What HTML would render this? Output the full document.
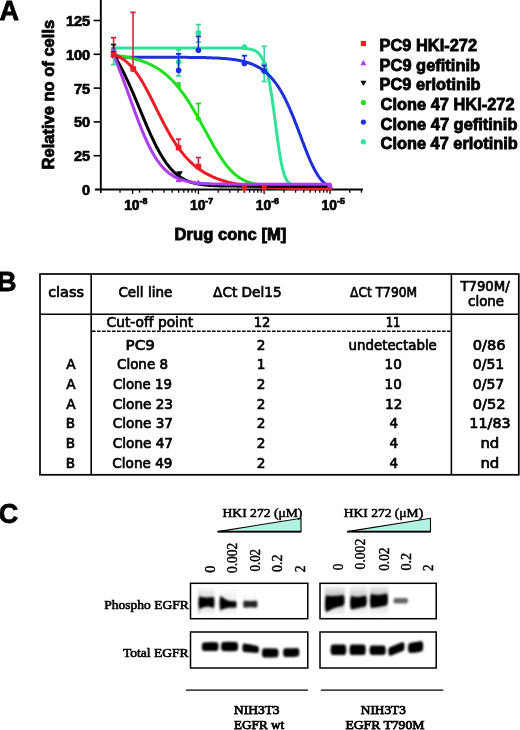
<!DOCTYPE html>
<html><head><meta charset="utf-8"><style>
html,body{margin:0;padding:0;background:#fff;}
svg{display:block;}

.pl{font-family:"Liberation Sans",Arial,sans-serif;font-weight:bold;font-size:27px;stroke:#000;stroke-width:0.8px;}
.ax{font-family:"Liberation Sans",Arial,sans-serif;font-weight:bold;font-size:16.2px;stroke:#000;stroke-width:0.8px;}
.lg{font-family:"Liberation Sans",Arial,sans-serif;font-weight:bold;font-size:16.0px;stroke:#000;stroke-width:0.8px;}
.tk{font-family:"Liberation Sans",Arial,sans-serif;font-weight:bold;font-size:14.5px;stroke:#000;stroke-width:0.7px;}
.tk2{font-family:"Liberation Sans",Arial,sans-serif;font-weight:bold;font-size:13.8px;stroke:#000;stroke-width:0.7px;}
.sup{font-size:8.8px;}
.tb{font-family:"DejaVu Sans",Verdana,sans-serif;font-size:13.6px;stroke:#000;stroke-width:0.7px;}
.sr{font-family:"Liberation Serif","Times New Roman",serif;font-size:12.9px;stroke:#000;stroke-width:0.6px;}
.sr3{font-family:"Liberation Serif","Times New Roman",serif;font-size:12.9px;stroke:#000;stroke-width:0.55px;}
.sr2{font-family:"Liberation Serif","Times New Roman",serif;font-size:13.1px;stroke:#000;stroke-width:0.75px;}
.ln{font-family:"Liberation Serif","Times New Roman",serif;font-size:14.4px;stroke:#000;stroke-width:0.45px;}

</style></head><body>
<svg width="520" height="730" viewBox="0 0 520 730">
<defs>
<linearGradient id="sm2" x1="0" y1="0" x2="0" y2="1"><stop offset="0" stop-color="#000" stop-opacity="0.35"/><stop offset="1" stop-color="#000" stop-opacity="0"/></linearGradient>
<linearGradient id="sm" x1="0" y1="0" x2="0" y2="1"><stop offset="0" stop-color="#000" stop-opacity="0"/><stop offset="1" stop-color="#000" stop-opacity="0.5"/></linearGradient>
<filter id="bl" x="-20%" y="-50%" width="140%" height="200%"><feGaussianBlur stdDeviation="1.1"/></filter>
<filter id="bl2" x="-20%" y="-50%" width="140%" height="200%"><feGaussianBlur stdDeviation="1.0"/></filter>
</defs>
<text x="-0.6" y="19.6" class="pl">A</text>
<line x1="100.8" y1="0" x2="100.8" y2="190.5" stroke="#000" stroke-width="1.9"/>
<text x="90.2" y="194.9" text-anchor="end" class="tk">0</text>
<line x1="93.6" y1="155.7" x2="100.8" y2="155.7" stroke="#000" stroke-width="1.6"/>
<text x="90.2" y="161.1" text-anchor="end" class="tk">25</text>
<line x1="93.6" y1="121.9" x2="100.8" y2="121.9" stroke="#000" stroke-width="1.6"/>
<text x="90.2" y="127.3" text-anchor="end" class="tk">50</text>
<line x1="93.6" y1="88.1" x2="100.8" y2="88.1" stroke="#000" stroke-width="1.6"/>
<text x="90.2" y="93.5" text-anchor="end" class="tk">75</text>
<line x1="93.6" y1="54.3" x2="100.8" y2="54.3" stroke="#000" stroke-width="1.6"/>
<text x="90.2" y="59.7" text-anchor="end" class="tk">100</text>
<line x1="93.6" y1="20.5" x2="100.8" y2="20.5" stroke="#000" stroke-width="1.6"/>
<text x="90.2" y="25.9" text-anchor="end" class="tk">125</text>
<line x1="94.9" y1="189.5" x2="362.9" y2="189.5" stroke="#000" stroke-width="1.9"/>
<line x1="132.6" y1="189.5" x2="132.6" y2="194.0" stroke="#000" stroke-width="1.3"/>
<line x1="152.4" y1="189.5" x2="152.4" y2="192.7" stroke="#000" stroke-width="1.3"/>
<line x1="164.0" y1="189.5" x2="164.0" y2="192.7" stroke="#000" stroke-width="1.3"/>
<line x1="172.2" y1="189.5" x2="172.2" y2="192.7" stroke="#000" stroke-width="1.3"/>
<line x1="178.6" y1="189.5" x2="178.6" y2="192.7" stroke="#000" stroke-width="1.3"/>
<line x1="183.8" y1="189.5" x2="183.8" y2="192.7" stroke="#000" stroke-width="1.3"/>
<line x1="188.2" y1="189.5" x2="188.2" y2="192.7" stroke="#000" stroke-width="1.3"/>
<line x1="192.0" y1="189.5" x2="192.0" y2="192.7" stroke="#000" stroke-width="1.3"/>
<line x1="195.4" y1="189.5" x2="195.4" y2="192.7" stroke="#000" stroke-width="1.3"/>
<line x1="198.4" y1="189.5" x2="198.4" y2="194.0" stroke="#000" stroke-width="1.3"/>
<line x1="218.2" y1="189.5" x2="218.2" y2="192.7" stroke="#000" stroke-width="1.3"/>
<line x1="229.8" y1="189.5" x2="229.8" y2="192.7" stroke="#000" stroke-width="1.3"/>
<line x1="238.0" y1="189.5" x2="238.0" y2="192.7" stroke="#000" stroke-width="1.3"/>
<line x1="244.4" y1="189.5" x2="244.4" y2="192.7" stroke="#000" stroke-width="1.3"/>
<line x1="249.6" y1="189.5" x2="249.6" y2="192.7" stroke="#000" stroke-width="1.3"/>
<line x1="254.0" y1="189.5" x2="254.0" y2="192.7" stroke="#000" stroke-width="1.3"/>
<line x1="257.8" y1="189.5" x2="257.8" y2="192.7" stroke="#000" stroke-width="1.3"/>
<line x1="261.2" y1="189.5" x2="261.2" y2="192.7" stroke="#000" stroke-width="1.3"/>
<line x1="264.2" y1="189.5" x2="264.2" y2="194.0" stroke="#000" stroke-width="1.3"/>
<line x1="284.0" y1="189.5" x2="284.0" y2="192.7" stroke="#000" stroke-width="1.3"/>
<line x1="295.6" y1="189.5" x2="295.6" y2="192.7" stroke="#000" stroke-width="1.3"/>
<line x1="303.8" y1="189.5" x2="303.8" y2="192.7" stroke="#000" stroke-width="1.3"/>
<line x1="310.2" y1="189.5" x2="310.2" y2="192.7" stroke="#000" stroke-width="1.3"/>
<line x1="315.4" y1="189.5" x2="315.4" y2="192.7" stroke="#000" stroke-width="1.3"/>
<line x1="319.8" y1="189.5" x2="319.8" y2="192.7" stroke="#000" stroke-width="1.3"/>
<line x1="323.6" y1="189.5" x2="323.6" y2="192.7" stroke="#000" stroke-width="1.3"/>
<line x1="327.0" y1="189.5" x2="327.0" y2="192.7" stroke="#000" stroke-width="1.3"/>
<line x1="330.0" y1="189.5" x2="330.0" y2="194.0" stroke="#000" stroke-width="1.3"/>
<line x1="349.8" y1="189.5" x2="349.8" y2="192.7" stroke="#000" stroke-width="1.3"/>
<line x1="361.4" y1="189.5" x2="361.4" y2="192.7" stroke="#000" stroke-width="1.3"/>
<line x1="100.8" y1="189.5" x2="100.8" y2="193" stroke="#000" stroke-width="1.6"/>
<line x1="120.0" y1="189.5" x2="120.0" y2="192.7" stroke="#000" stroke-width="1.3"/>
<line x1="139.5" y1="189.5" x2="139.5" y2="192.7" stroke="#000" stroke-width="1.3"/>
<text x="124.2" y="210.4" class="tk2">10<tspan class="sup" dy="-6.2">-8</tspan></text>
<text x="190.0" y="210.4" class="tk2">10<tspan class="sup" dy="-6.2">-7</tspan></text>
<text x="255.8" y="210.4" class="tk2">10<tspan class="sup" dy="-6.2">-6</tspan></text>
<text x="321.6" y="210.4" class="tk2">10<tspan class="sup" dy="-6.2">-5</tspan></text>
<g fill="none" stroke-width="3.0" stroke-linejoin="round" stroke-linecap="round">
<path d="M113.3,48.0 L114.3,48.0 L115.3,48.0 L116.3,48.0 L117.3,48.0 L118.3,48.0 L119.3,48.0 L120.3,48.0 L121.3,48.0 L122.3,48.0 L123.3,48.0 L124.3,48.0 L125.3,48.0 L126.3,48.0 L127.3,48.0 L128.3,48.0 L129.3,48.0 L130.3,48.0 L131.3,48.0 L132.3,48.0 L133.3,48.0 L134.3,48.0 L135.3,48.0 L136.3,48.0 L137.3,48.0 L138.3,48.0 L139.3,48.0 L140.3,48.0 L141.3,48.0 L142.3,48.0 L143.3,48.0 L144.3,48.0 L145.3,48.0 L146.3,48.0 L147.3,48.0 L148.3,48.0 L149.3,48.0 L150.3,48.0 L151.3,48.0 L152.3,48.0 L153.3,48.0 L154.3,48.0 L155.3,48.0 L156.3,48.0 L157.3,48.0 L158.3,48.0 L159.3,48.0 L160.3,48.0 L161.3,48.0 L162.3,48.0 L163.3,48.0 L164.3,48.0 L165.3,48.0 L166.3,48.0 L167.3,48.0 L168.3,48.0 L169.3,48.0 L170.3,48.0 L171.3,48.0 L172.3,48.0 L173.3,48.0 L174.3,48.0 L175.3,48.0 L176.3,48.0 L177.3,48.0 L178.3,48.0 L179.3,48.0 L180.3,48.0 L181.3,48.0 L182.3,48.0 L183.3,48.0 L184.3,48.0 L185.3,48.0 L186.3,48.0 L187.3,48.0 L188.3,48.0 L189.3,48.0 L190.3,48.0 L191.3,48.0 L192.3,48.0 L193.3,48.0 L194.3,48.0 L195.3,48.0 L196.3,48.0 L197.3,48.0 L198.3,48.0 L199.3,48.0 L200.3,48.0 L201.3,48.0 L202.3,48.0 L203.3,48.0 L204.3,48.0 L205.3,48.0 L206.3,48.0 L207.3,48.0 L208.3,48.0 L209.3,48.0 L210.3,48.0 L211.3,48.0 L212.3,48.0 L213.3,48.0 L214.3,48.0 L215.3,48.0 L216.3,48.0 L217.3,48.0 L218.3,48.0 L219.3,48.0 L220.3,48.0 L221.3,48.0 L222.3,48.0 L223.3,48.0 L224.3,48.0 L225.3,48.0 L226.3,48.0 L227.3,48.0 L228.3,48.0 L229.3,48.0 L230.3,48.0 L231.3,48.0 L232.3,48.0 L233.3,48.0 L234.3,48.0 L235.3,48.0 L236.3,48.0 L237.3,48.1 L238.3,48.1 L239.3,48.1 L240.3,48.1 L241.3,48.2 L242.3,48.2 L243.3,48.3 L244.3,48.3 L245.3,48.4 L246.3,48.5 L247.3,48.6 L248.3,48.8 L249.3,48.9 L250.3,49.1 L251.3,49.4 L252.3,49.7 L253.3,50.0 L254.3,50.4 L255.3,50.9 L256.3,51.6 L257.3,52.3 L258.3,53.1 L259.3,54.2 L260.3,55.4 L261.3,56.9 L262.3,58.6 L263.3,60.6 L264.3,63.0 L265.3,65.8 L266.3,69.1 L267.3,72.9 L268.3,77.1 L269.3,82.0 L270.3,87.5 L271.3,93.5 L272.3,100.0 L273.3,107.0 L274.3,114.4 L275.3,122.0 L276.3,129.7 L277.3,137.2 L278.3,144.4 L279.3,151.2 L280.3,157.3 L281.3,162.8 L282.3,167.5 L283.3,171.4 L284.3,174.7 L285.3,177.4 L286.3,179.4 L287.3,181.0 L288.3,182.3 L289.3,183.2 L290.3,183.9 L291.3,184.4 L292.3,184.7 L293.3,185.0 L294.3,185.2 L295.3,185.3 L296.3,185.4 L297.3,185.5 L298.3,185.5 L299.3,185.5 L300.3,185.6 L301.3,185.6 L302.3,185.6 L303.3,185.6 L304.3,185.6 L305.3,185.6 L306.3,185.6 L307.3,185.6 L308.3,185.6 L309.3,185.6 L310.3,185.6 L311.3,185.6 L312.3,185.6 L313.3,185.6 L314.3,185.6 L315.3,185.6 L316.3,185.6 L317.3,185.6 L318.3,185.6 L319.3,185.6 L320.3,185.6 L321.3,185.6 L322.3,185.6 L323.3,185.6 L324.3,185.6 L325.3,185.6 L326.3,185.6 L327.3,185.6 L328.3,185.6 L329.3,185.6 L330.3,185.6" stroke="#2fe49a"/>
<path d="M113.3,57.2 L114.3,57.2 L115.3,57.2 L116.3,57.2 L117.3,57.2 L118.3,57.2 L119.3,57.2 L120.3,57.2 L121.3,57.2 L122.3,57.2 L123.3,57.2 L124.3,57.2 L125.3,57.2 L126.3,57.2 L127.3,57.2 L128.3,57.2 L129.3,57.2 L130.3,57.2 L131.3,57.2 L132.3,57.2 L133.3,57.2 L134.3,57.2 L135.3,57.2 L136.3,57.2 L137.3,57.2 L138.3,57.2 L139.3,57.2 L140.3,57.2 L141.3,57.2 L142.3,57.2 L143.3,57.2 L144.3,57.2 L145.3,57.2 L146.3,57.2 L147.3,57.2 L148.3,57.2 L149.3,57.2 L150.3,57.2 L151.3,57.2 L152.3,57.2 L153.3,57.2 L154.3,57.2 L155.3,57.2 L156.3,57.2 L157.3,57.2 L158.3,57.2 L159.3,57.2 L160.3,57.2 L161.3,57.2 L162.3,57.2 L163.3,57.2 L164.3,57.2 L165.3,57.2 L166.3,57.2 L167.3,57.2 L168.3,57.2 L169.3,57.2 L170.3,57.2 L171.3,57.2 L172.3,57.3 L173.3,57.3 L174.3,57.3 L175.3,57.3 L176.3,57.3 L177.3,57.3 L178.3,57.3 L179.3,57.3 L180.3,57.3 L181.3,57.3 L182.3,57.3 L183.3,57.3 L184.3,57.3 L185.3,57.3 L186.3,57.3 L187.3,57.3 L188.3,57.4 L189.3,57.4 L190.3,57.4 L191.3,57.4 L192.3,57.4 L193.3,57.4 L194.3,57.4 L195.3,57.4 L196.3,57.4 L197.3,57.5 L198.3,57.5 L199.3,57.5 L200.3,57.5 L201.3,57.5 L202.3,57.6 L203.3,57.6 L204.3,57.6 L205.3,57.6 L206.3,57.7 L207.3,57.7 L208.3,57.7 L209.3,57.7 L210.3,57.8 L211.3,57.8 L212.3,57.9 L213.3,57.9 L214.3,57.9 L215.3,58.0 L216.3,58.0 L217.3,58.1 L218.3,58.1 L219.3,58.2 L220.3,58.3 L221.3,58.3 L222.3,58.4 L223.3,58.5 L224.3,58.6 L225.3,58.6 L226.3,58.7 L227.3,58.8 L228.3,58.9 L229.3,59.0 L230.3,59.1 L231.3,59.2 L232.3,59.4 L233.3,59.5 L234.3,59.6 L235.3,59.8 L236.3,60.0 L237.3,60.1 L238.3,60.3 L239.3,60.5 L240.3,60.7 L241.3,60.9 L242.3,61.1 L243.3,61.4 L244.3,61.6 L245.3,61.9 L246.3,62.2 L247.3,62.5 L248.3,62.8 L249.3,63.1 L250.3,63.5 L251.3,63.8 L252.3,64.2 L253.3,64.7 L254.3,65.1 L255.3,65.6 L256.3,66.1 L257.3,66.6 L258.3,67.1 L259.3,67.7 L260.3,68.3 L261.3,69.0 L262.3,69.7 L263.3,70.4 L264.3,71.2 L265.3,72.0 L266.3,72.8 L267.3,73.7 L268.3,74.6 L269.3,75.6 L270.3,76.6 L271.3,77.7 L272.3,78.9 L273.3,80.0 L274.3,81.3 L275.3,82.6 L276.3,84.0 L277.3,85.4 L278.3,86.9 L279.3,88.4 L280.3,90.1 L281.3,91.8 L282.3,93.5 L283.3,95.3 L284.3,97.2 L285.3,99.2 L286.3,101.2 L287.3,103.3 L288.3,105.5 L289.3,107.7 L290.3,110.0 L291.3,112.3 L292.3,114.7 L293.3,117.1 L294.3,119.6 L295.3,122.2 L296.3,124.8 L297.3,127.4 L298.3,130.0 L299.3,132.7 L300.3,135.3 L301.3,138.0 L302.3,140.7 L303.3,143.3 L304.3,145.9 L305.3,148.5 L306.3,151.1 L307.3,153.6 L308.3,156.1 L309.3,158.5 L310.3,160.8 L311.3,163.0 L312.3,165.2 L313.3,167.2 L314.3,169.2 L315.3,171.0 L316.3,172.8 L317.3,174.4 L318.3,176.0 L319.3,177.4 L320.3,178.7 L321.3,179.9 L322.3,181.0 L323.3,182.0 L324.3,182.9 L325.3,183.7 L326.3,184.4 L327.3,185.0 L328.3,185.6 L329.3,186.1 L330.3,186.5" stroke="#1f2fdc"/>
<path d="M113.3,55.2 L114.3,55.3 L115.3,55.4 L116.3,55.5 L117.3,55.6 L118.3,55.8 L119.3,55.9 L120.3,56.0 L121.3,56.2 L122.3,56.3 L123.3,56.5 L124.3,56.7 L125.3,56.8 L126.3,57.0 L127.3,57.2 L128.3,57.4 L129.3,57.6 L130.3,57.8 L131.3,58.0 L132.3,58.3 L133.3,58.5 L134.3,58.8 L135.3,59.0 L136.3,59.3 L137.3,59.6 L138.3,59.9 L139.3,60.2 L140.3,60.5 L141.3,60.8 L142.3,61.2 L143.3,61.5 L144.3,61.9 L145.3,62.3 L146.3,62.7 L147.3,63.1 L148.3,63.5 L149.3,64.0 L150.3,64.5 L151.3,64.9 L152.3,65.5 L153.3,66.0 L154.3,66.5 L155.3,67.1 L156.3,67.7 L157.3,68.3 L158.3,68.9 L159.3,69.6 L160.3,70.3 L161.3,71.0 L162.3,71.7 L163.3,72.5 L164.3,73.2 L165.3,74.0 L166.3,74.9 L167.3,75.7 L168.3,76.6 L169.3,77.6 L170.3,78.5 L171.3,79.5 L172.3,80.5 L173.3,81.6 L174.3,82.6 L175.3,83.7 L176.3,84.9 L177.3,86.1 L178.3,87.3 L179.3,88.5 L180.3,89.8 L181.3,91.1 L182.3,92.4 L183.3,93.8 L184.3,95.2 L185.3,96.7 L186.3,98.1 L187.3,99.6 L188.3,101.2 L189.3,102.7 L190.3,104.3 L191.3,105.9 L192.3,107.6 L193.3,109.2 L194.3,110.9 L195.3,112.7 L196.3,114.4 L197.3,116.2 L198.3,117.9 L199.3,119.7 L200.3,121.5 L201.3,123.4 L202.3,125.2 L203.3,127.0 L204.3,128.9 L205.3,130.7 L206.3,132.5 L207.3,134.4 L208.3,136.2 L209.3,138.0 L210.3,139.8 L211.3,141.6 L212.3,143.4 L213.3,145.2 L214.3,146.9 L215.3,148.6 L216.3,150.3 L217.3,152.0 L218.3,153.6 L219.3,155.2 L220.3,156.7 L221.3,158.2 L222.3,159.7 L223.3,161.1 L224.3,162.5 L225.3,163.8 L226.3,165.1 L227.3,166.4 L228.3,167.6 L229.3,168.7 L230.3,169.8 L231.3,170.9 L232.3,171.9 L233.3,172.8 L234.3,173.7 L235.3,174.6 L236.3,175.4 L237.3,176.2 L238.3,176.9 L239.3,177.6 L240.3,178.2 L241.3,178.8 L242.3,179.4 L243.3,179.9 L244.3,180.4 L245.3,180.8 L246.3,181.3 L247.3,181.7 L248.3,182.0 L249.3,182.3 L250.3,182.7 L251.3,182.9 L252.3,183.2 L253.3,183.4 L254.3,183.7 L255.3,183.9 L256.3,184.0 L257.3,184.2 L258.3,184.3 L259.3,184.5 L260.3,184.6 L261.3,184.7 L262.3,184.8 L263.3,184.9 L264.3,185.0 L265.3,185.1 L266.3,185.1 L267.3,185.2 L268.3,185.3 L269.3,185.3 L270.3,185.3 L271.3,185.4 L272.3,185.4 L273.3,185.4 L274.3,185.5 L275.3,185.5 L276.3,185.5 L277.3,185.5 L278.3,185.6 L279.3,185.6 L280.3,185.6 L281.3,185.6 L282.3,185.6 L283.3,185.6 L284.3,185.6 L285.3,185.6 L286.3,185.6 L287.3,185.6 L288.3,185.6 L289.3,185.7 L290.3,185.7 L291.3,185.7 L292.3,185.7 L293.3,185.7 L294.3,185.7 L295.3,185.7 L296.3,185.7 L297.3,185.7 L298.3,185.7 L299.3,185.7 L300.3,185.7 L301.3,185.7 L302.3,185.7 L303.3,185.7 L304.3,185.7 L305.3,185.7 L306.3,185.7 L307.3,185.7 L308.3,185.7 L309.3,185.7 L310.3,185.7 L311.3,185.7 L312.3,185.7 L313.3,185.7 L314.3,185.7 L315.3,185.7 L316.3,185.7 L317.3,185.7 L318.3,185.7 L319.3,185.7 L320.3,185.7 L321.3,185.7 L322.3,185.7 L323.3,185.7 L324.3,185.7 L325.3,185.7 L326.3,185.7 L327.3,185.7 L328.3,185.7 L329.3,185.7 L330.3,185.7" stroke="#1fe01f"/>
<path d="M113.3,54.2 L114.3,54.5 L115.3,54.9 L116.3,55.4 L117.3,55.9 L118.3,56.4 L119.3,56.9 L120.3,57.4 L121.3,58.1 L122.3,58.7 L123.3,59.4 L124.3,60.1 L125.3,60.9 L126.3,61.7 L127.3,62.5 L128.3,63.5 L129.3,64.4 L130.3,65.4 L131.3,66.5 L132.3,67.6 L133.3,68.8 L134.3,70.0 L135.3,71.3 L136.3,72.6 L137.3,74.0 L138.3,75.5 L139.3,77.0 L140.3,78.5 L141.3,80.1 L142.3,81.8 L143.3,83.5 L144.3,85.3 L145.3,87.0 L146.3,88.9 L147.3,90.7 L148.3,92.6 L149.3,94.6 L150.3,96.5 L151.3,98.5 L152.3,100.5 L153.3,102.5 L154.3,104.5 L155.3,106.5 L156.3,108.6 L157.3,110.6 L158.3,112.6 L159.3,114.6 L160.3,116.6 L161.3,118.6 L162.3,120.5 L163.3,122.5 L164.3,124.4 L165.3,126.3 L166.3,128.1 L167.3,129.9 L168.3,131.7 L169.3,133.5 L170.3,135.2 L171.3,136.9 L172.3,138.6 L173.3,140.2 L174.3,141.7 L175.3,143.3 L176.3,144.8 L177.3,146.2 L178.3,147.6 L179.3,149.0 L180.3,150.4 L181.3,151.7 L182.3,152.9 L183.3,154.1 L184.3,155.3 L185.3,156.5 L186.3,157.6 L187.3,158.7 L188.3,159.7 L189.3,160.7 L190.3,161.7 L191.3,162.7 L192.3,163.6 L193.3,164.5 L194.3,165.4 L195.3,166.2 L196.3,167.0 L197.3,167.8 L198.3,168.5 L199.3,169.2 L200.3,169.9 L201.3,170.6 L202.3,171.3 L203.3,171.9 L204.3,172.5 L205.3,173.1 L206.3,173.7 L207.3,174.2 L208.3,174.7 L209.3,175.2 L210.3,175.7 L211.3,176.2 L212.3,176.7 L213.3,177.1 L214.3,177.5 L215.3,177.9 L216.3,178.3 L217.3,178.7 L218.3,179.1 L219.3,179.4 L220.3,179.8 L221.3,180.1 L222.3,180.4 L223.3,180.7 L224.3,181.0 L225.3,181.3 L226.3,181.6 L227.3,181.9 L228.3,182.1 L229.3,182.4 L230.3,182.6 L231.3,182.8 L232.3,183.1 L233.3,183.3 L234.3,183.5 L235.3,183.7 L236.3,183.9 L237.3,184.1 L238.3,184.2 L239.3,184.4 L240.3,184.6 L241.3,184.7 L242.3,184.9 L243.3,185.0 L244.3,185.2 L245.3,185.3 L246.3,185.5 L247.3,185.6 L248.3,185.7 L249.3,185.8 L250.3,185.9 L251.3,186.1 L252.3,186.2 L253.3,186.3 L254.3,186.4 L255.3,186.5 L256.3,186.5 L257.3,186.6 L258.3,186.7 L259.3,186.8 L260.3,186.9 L261.3,187.0 L262.3,187.0 L263.3,187.1 L264.3,187.2 L265.3,187.2 L266.3,187.3 L267.3,187.4 L268.3,187.4 L269.3,187.5 L270.3,187.5 L271.3,187.6 L272.3,187.6 L273.3,187.7 L274.3,187.7 L275.3,187.8 L276.3,187.8 L277.3,187.9 L278.3,187.9 L279.3,188.0 L280.3,188.0 L281.3,188.0 L282.3,188.1 L283.3,188.1 L284.3,188.1 L285.3,188.2 L286.3,188.2 L287.3,188.2 L288.3,188.3 L289.3,188.3 L290.3,188.3 L291.3,188.3 L292.3,188.4 L293.3,188.4 L294.3,188.4 L295.3,188.4 L296.3,188.5 L297.3,188.5 L298.3,188.5 L299.3,188.5 L300.3,188.5 L301.3,188.5 L302.3,188.6 L303.3,188.6 L304.3,188.6 L305.3,188.6 L306.3,188.6 L307.3,188.6 L308.3,188.7 L309.3,188.7 L310.3,188.7 L311.3,188.7 L312.3,188.7 L313.3,188.7 L314.3,188.7 L315.3,188.7 L316.3,188.8 L317.3,188.8 L318.3,188.8 L319.3,188.8 L320.3,188.8 L321.3,188.8 L322.3,188.8 L323.3,188.8 L324.3,188.8 L325.3,188.8 L326.3,188.8 L327.3,188.8 L328.3,188.8 L329.3,188.9 L330.3,188.9" stroke="#ee1c24"/>
<path d="M113.3,54.2 L114.3,55.8 L115.3,57.4 L116.3,59.0 L117.3,60.8 L118.3,62.5 L119.3,64.3 L120.3,66.1 L121.3,68.0 L122.3,70.0 L123.3,71.9 L124.3,74.0 L125.3,76.0 L126.3,78.1 L127.3,80.2 L128.3,82.4 L129.3,84.6 L130.3,86.8 L131.3,89.1 L132.3,91.4 L133.3,93.7 L134.3,96.1 L135.3,98.4 L136.3,100.8 L137.3,103.2 L138.3,105.6 L139.3,108.0 L140.3,110.4 L141.3,112.8 L142.3,115.2 L143.3,117.6 L144.3,119.9 L145.3,122.3 L146.3,124.6 L147.3,127.0 L148.3,129.3 L149.3,131.5 L150.3,133.8 L151.3,136.0 L152.3,138.1 L153.3,140.2 L154.3,142.3 L155.3,144.3 L156.3,146.3 L157.3,148.2 L158.3,150.1 L159.3,151.9 L160.3,153.7 L161.3,155.4 L162.3,157.1 L163.3,158.6 L164.3,160.2 L165.3,161.6 L166.3,163.1 L167.3,164.4 L168.3,165.7 L169.3,167.0 L170.3,168.1 L171.3,169.3 L172.3,170.3 L173.3,171.4 L174.3,172.3 L175.3,173.2 L176.3,174.1 L177.3,174.9 L178.3,175.7 L179.3,176.4 L180.3,177.1 L181.3,177.8 L182.3,178.4 L183.3,178.9 L184.3,179.5 L185.3,180.0 L186.3,180.4 L187.3,180.9 L188.3,181.3 L189.3,181.6 L190.3,182.0 L191.3,182.3 L192.3,182.6 L193.3,182.9 L194.3,183.2 L195.3,183.4 L196.3,183.6 L197.3,183.8 L198.3,184.0 L199.3,184.2 L200.3,184.4 L201.3,184.5 L202.3,184.7 L203.3,184.8 L204.3,184.9 L205.3,185.0 L206.3,185.1 L207.3,185.2 L208.3,185.3 L209.3,185.4 L210.3,185.4 L211.3,185.5 L212.3,185.6 L213.3,185.6 L214.3,185.7 L215.3,185.7 L216.3,185.8 L217.3,185.8 L218.3,185.8 L219.3,185.9 L220.3,185.9 L221.3,185.9 L222.3,186.0 L223.3,186.0 L224.3,186.0 L225.3,186.0 L226.3,186.0 L227.3,186.0 L228.3,186.1 L229.3,186.1 L230.3,186.1 L231.3,186.1 L232.3,186.1 L233.3,186.1 L234.3,186.1 L235.3,186.1 L236.3,186.1 L237.3,186.2 L238.3,186.2 L239.3,186.2 L240.3,186.2 L241.3,186.2 L242.3,186.2 L243.3,186.2 L244.3,186.2 L245.3,186.2 L246.3,186.2 L247.3,186.2 L248.3,186.2 L249.3,186.2 L250.3,186.2 L251.3,186.2 L252.3,186.2 L253.3,186.2 L254.3,186.2 L255.3,186.2 L256.3,186.2 L257.3,186.2 L258.3,186.2 L259.3,186.2 L260.3,186.2 L261.3,186.2 L262.3,186.2 L263.3,186.2 L264.3,186.2 L265.3,186.2 L266.3,186.2 L267.3,186.2 L268.3,186.2 L269.3,186.2 L270.3,186.2 L271.3,186.2 L272.3,186.2 L273.3,186.2 L274.3,186.2 L275.3,186.2 L276.3,186.2 L277.3,186.2 L278.3,186.2 L279.3,186.2 L280.3,186.2 L281.3,186.2 L282.3,186.2 L283.3,186.2 L284.3,186.2 L285.3,186.2 L286.3,186.2 L287.3,186.2 L288.3,186.2 L289.3,186.2 L290.3,186.2 L291.3,186.2 L292.3,186.2 L293.3,186.2 L294.3,186.2 L295.3,186.2 L296.3,186.2 L297.3,186.2 L298.3,186.2 L299.3,186.2 L300.3,186.2 L301.3,186.2 L302.3,186.2 L303.3,186.2 L304.3,186.2 L305.3,186.2 L306.3,186.2 L307.3,186.2 L308.3,186.2 L309.3,186.2 L310.3,186.2 L311.3,186.2 L312.3,186.2 L313.3,186.2 L314.3,186.2 L315.3,186.2 L316.3,186.2 L317.3,186.2 L318.3,186.2 L319.3,186.2 L320.3,186.2 L321.3,186.2 L322.3,186.2 L323.3,186.2 L324.3,186.2 L325.3,186.2 L326.3,186.2 L327.3,186.2 L328.3,186.2 L329.3,186.2 L330.3,186.2" stroke="#000000"/>
<path d="M113.3,54.8 L114.3,57.1 L115.3,59.4 L116.3,61.8 L117.3,64.3 L118.3,66.8 L119.3,69.3 L120.3,71.9 L121.3,74.5 L122.3,77.1 L123.3,79.8 L124.3,82.5 L125.3,85.2 L126.3,88.0 L127.3,90.7 L128.3,93.5 L129.3,96.3 L130.3,99.1 L131.3,101.9 L132.3,104.6 L133.3,107.4 L134.3,110.1 L135.3,112.9 L136.3,115.6 L137.3,118.2 L138.3,120.9 L139.3,123.5 L140.3,126.0 L141.3,128.5 L142.3,131.0 L143.3,133.4 L144.3,135.7 L145.3,138.0 L146.3,140.2 L147.3,142.4 L148.3,144.5 L149.3,146.5 L150.3,148.5 L151.3,150.4 L152.3,152.2 L153.3,154.0 L154.3,155.7 L155.3,157.3 L156.3,158.8 L157.3,160.3 L158.3,161.7 L159.3,163.1 L160.3,164.4 L161.3,165.6 L162.3,166.8 L163.3,167.9 L164.3,168.9 L165.3,169.9 L166.3,170.8 L167.3,171.7 L168.3,172.6 L169.3,173.3 L170.3,174.1 L171.3,174.8 L172.3,175.4 L173.3,176.0 L174.3,176.6 L175.3,177.1 L176.3,177.6 L177.3,178.1 L178.3,178.6 L179.3,179.0 L180.3,179.4 L181.3,179.7 L182.3,180.0 L183.3,180.4 L184.3,180.6 L185.3,180.9 L186.3,181.2 L187.3,181.4 L188.3,181.6 L189.3,181.8 L190.3,182.0 L191.3,182.2 L192.3,182.3 L193.3,182.5 L194.3,182.6 L195.3,182.7 L196.3,182.9 L197.3,183.0 L198.3,183.1 L199.3,183.2 L200.3,183.3 L201.3,183.3 L202.3,183.4 L203.3,183.5 L204.3,183.5 L205.3,183.6 L206.3,183.6 L207.3,183.7 L208.3,183.7 L209.3,183.8 L210.3,183.8 L211.3,183.9 L212.3,183.9 L213.3,183.9 L214.3,184.0 L215.3,184.0 L216.3,184.0 L217.3,184.0 L218.3,184.0 L219.3,184.1 L220.3,184.1 L221.3,184.1 L222.3,184.1 L223.3,184.1 L224.3,184.1 L225.3,184.2 L226.3,184.2 L227.3,184.2 L228.3,184.2 L229.3,184.2 L230.3,184.2 L231.3,184.2 L232.3,184.2 L233.3,184.2 L234.3,184.2 L235.3,184.2 L236.3,184.2 L237.3,184.2 L238.3,184.2 L239.3,184.2 L240.3,184.2 L241.3,184.2 L242.3,184.3 L243.3,184.3 L244.3,184.3 L245.3,184.3 L246.3,184.3 L247.3,184.3 L248.3,184.3 L249.3,184.3 L250.3,184.3 L251.3,184.3 L252.3,184.3 L253.3,184.3 L254.3,184.3 L255.3,184.3 L256.3,184.3 L257.3,184.3 L258.3,184.3 L259.3,184.3 L260.3,184.3 L261.3,184.3 L262.3,184.3 L263.3,184.3 L264.3,184.3 L265.3,184.3 L266.3,184.3 L267.3,184.3 L268.3,184.3 L269.3,184.3 L270.3,184.3 L271.3,184.3 L272.3,184.3 L273.3,184.3 L274.3,184.3 L275.3,184.3 L276.3,184.3 L277.3,184.3 L278.3,184.3 L279.3,184.3 L280.3,184.3 L281.3,184.3 L282.3,184.3 L283.3,184.3 L284.3,184.3 L285.3,184.3 L286.3,184.3 L287.3,184.3 L288.3,184.3 L289.3,184.3 L290.3,184.3 L291.3,184.3 L292.3,184.3 L293.3,184.3 L294.3,184.3 L295.3,184.3 L296.3,184.3 L297.3,184.3 L298.3,184.3 L299.3,184.3 L300.3,184.3 L301.3,184.3 L302.3,184.3 L303.3,184.3 L304.3,184.3 L305.3,184.3 L306.3,184.3 L307.3,184.3 L308.3,184.3 L309.3,184.3 L310.3,184.3 L311.3,184.3 L312.3,184.3 L313.3,184.3 L314.3,184.3 L315.3,184.3 L316.3,184.3 L317.3,184.3 L318.3,184.3 L319.3,184.3 L320.3,184.3 L321.3,184.3 L322.3,184.3 L323.3,184.3 L324.3,184.3 L325.3,184.3 L326.3,184.3 L327.3,184.3 L328.3,184.3 L329.3,184.3 L330.3,184.3" stroke="#ab3cf0"/>
</g>
<line x1="113.6" y1="48.0" x2="113.6" y2="64.6" stroke="#3ad9a0" stroke-width="1.6"/><line x1="111.0" y1="48.0" x2="116.2" y2="48.0" stroke="#3ad9a0" stroke-width="1.8"/><line x1="111.0" y1="64.6" x2="116.2" y2="64.6" stroke="#3ad9a0" stroke-width="1.8"/>
<line x1="113.6" y1="37.7" x2="113.6" y2="54.5" stroke="#d4213d" stroke-width="1.6"/><line x1="111.0" y1="37.7" x2="116.2" y2="37.7" stroke="#d4213d" stroke-width="1.8"/><line x1="111.0" y1="54.5" x2="116.2" y2="54.5" stroke="#d4213d" stroke-width="1.8"/>
<line x1="113.6" y1="44.6" x2="113.6" y2="54.4" stroke="#111" stroke-width="1.6"/><line x1="111.0" y1="44.6" x2="116.2" y2="44.6" stroke="#111" stroke-width="1.8"/><line x1="111.0" y1="54.4" x2="116.2" y2="54.4" stroke="#111" stroke-width="1.8"/>
<line x1="113.6" y1="49.6" x2="113.6" y2="54.4" stroke="#9b3ad8" stroke-width="1.6"/><line x1="111.0" y1="49.6" x2="116.2" y2="49.6" stroke="#9b3ad8" stroke-width="1.8"/><line x1="111.0" y1="54.4" x2="116.2" y2="54.4" stroke="#9b3ad8" stroke-width="1.8"/>
<path d="M113.6,56.9 L116.8,51.3 L110.4,51.3Z" fill="#000000"/>
<path d="M113.6,51.0 L116.8,56.6 L110.4,56.6Z" fill="#ab3cf0"/>
<rect x="110.8" y="52.0" width="5.6" height="5.6" fill="#ee1c24"/>
<line x1="133.0" y1="12.4" x2="133.0" y2="69.0" stroke="#d4213d" stroke-width="1.6"/><line x1="130.4" y1="12.4" x2="135.6" y2="12.4" stroke="#d4213d" stroke-width="1.8"/><line x1="130.4" y1="69.0" x2="135.6" y2="69.0" stroke="#d4213d" stroke-width="1.8"/>
<rect x="130.5" y="66.2" width="5.6" height="5.6" fill="#ee1c24"/>
<line x1="178.6" y1="49.8" x2="178.6" y2="76.0" stroke="#3ad9a0" stroke-width="1.6"/><line x1="176.0" y1="49.8" x2="181.2" y2="49.8" stroke="#3ad9a0" stroke-width="1.8"/><line x1="176.0" y1="76.0" x2="181.2" y2="76.0" stroke="#3ad9a0" stroke-width="1.8"/>
<circle cx="178.6" cy="62.1" r="2.8" fill="#2fe49a"/>
<line x1="178.6" y1="53.9" x2="178.6" y2="70.4" stroke="#2030c8" stroke-width="1.6"/><line x1="176.0" y1="53.9" x2="181.2" y2="53.9" stroke="#2030c8" stroke-width="1.8"/><line x1="176.0" y1="70.4" x2="181.2" y2="70.4" stroke="#2030c8" stroke-width="1.8"/>
<circle cx="178.6" cy="70.4" r="2.8" fill="#1f2fdc"/>
<line x1="178.6" y1="83.0" x2="178.6" y2="85.8" stroke="#2ad02a" stroke-width="1.6"/><line x1="176.6" y1="83.0" x2="180.6" y2="83.0" stroke="#2ad02a" stroke-width="1.8"/><line x1="176.6" y1="85.8" x2="180.6" y2="85.8" stroke="#2ad02a" stroke-width="1.8"/>
<circle cx="178.6" cy="85.8" r="2.4" fill="#1fe01f"/>
<line x1="178.6" y1="139.2" x2="178.6" y2="147.7" stroke="#d4213d" stroke-width="1.6"/><line x1="176.0" y1="139.2" x2="181.2" y2="139.2" stroke="#d4213d" stroke-width="1.8"/><line x1="176.0" y1="147.7" x2="181.2" y2="147.7" stroke="#d4213d" stroke-width="1.8"/>
<rect x="175.8" y="144.9" width="5.6" height="5.6" fill="#ee1c24"/>
<path d="M179.6,176.9 L182.8,171.3 L176.4,171.3Z" fill="#000000"/>
<path d="M178.6,176.6 L181.8,182.2 L175.4,182.2Z" fill="#ab3cf0"/>
<line x1="198.4" y1="24.6" x2="198.4" y2="42.1" stroke="#3ad9a0" stroke-width="1.6"/><line x1="195.8" y1="24.6" x2="201.0" y2="24.6" stroke="#3ad9a0" stroke-width="1.8"/><line x1="195.8" y1="42.1" x2="201.0" y2="42.1" stroke="#3ad9a0" stroke-width="1.8"/>
<circle cx="198.4" cy="32.8" r="2.8" fill="#2fe49a"/>
<line x1="198.4" y1="36.4" x2="198.4" y2="50.3" stroke="#2030c8" stroke-width="1.6"/><line x1="195.8" y1="36.4" x2="201.0" y2="36.4" stroke="#2030c8" stroke-width="1.8"/><line x1="195.8" y1="50.3" x2="201.0" y2="50.3" stroke="#2030c8" stroke-width="1.8"/>
<circle cx="198.4" cy="50.3" r="2.8" fill="#1f2fdc"/>
<line x1="198.4" y1="103.5" x2="198.4" y2="118.8" stroke="#2ad02a" stroke-width="1.6"/><line x1="195.8" y1="103.5" x2="201.0" y2="103.5" stroke="#2ad02a" stroke-width="1.8"/><line x1="195.8" y1="118.8" x2="201.0" y2="118.8" stroke="#2ad02a" stroke-width="1.8"/>
<circle cx="198.4" cy="118.8" r="2.4" fill="#1fe01f"/>
<line x1="198.4" y1="157.6" x2="198.4" y2="166.5" stroke="#d4213d" stroke-width="1.6"/><line x1="195.8" y1="157.6" x2="201.0" y2="157.6" stroke="#d4213d" stroke-width="1.8"/><line x1="195.8" y1="166.5" x2="201.0" y2="166.5" stroke="#d4213d" stroke-width="1.8"/>
<rect x="195.6" y="163.7" width="5.6" height="5.6" fill="#ee1c24"/>
<path d="M198.4,179.6 L201.6,185.2 L195.2,185.2Z" fill="#ab3cf0"/>
<circle cx="244.4" cy="47.0" r="2.8" fill="#2fe49a"/>
<line x1="244.4" y1="55.7" x2="244.4" y2="63.4" stroke="#2030c8" stroke-width="1.6"/><line x1="241.8" y1="55.7" x2="247.0" y2="55.7" stroke="#2030c8" stroke-width="1.8"/><line x1="241.8" y1="63.4" x2="247.0" y2="63.4" stroke="#2030c8" stroke-width="1.8"/>
<circle cx="244.4" cy="63.4" r="2.8" fill="#1f2fdc"/>
<line x1="244.4" y1="185" x2="244.4" y2="193" stroke="#c8203c" stroke-width="1.8"/>
<rect x="242.0" y="185.1" width="4.8" height="4.8" fill="#ee1c24"/>
<line x1="264.2" y1="46.4" x2="264.2" y2="81.4" stroke="#3ad9a0" stroke-width="1.6"/><line x1="261.6" y1="46.4" x2="266.8" y2="46.4" stroke="#3ad9a0" stroke-width="1.8"/><line x1="261.6" y1="81.4" x2="266.8" y2="81.4" stroke="#3ad9a0" stroke-width="1.8"/>
<circle cx="264.2" cy="64.0" r="2.8" fill="#2fe49a"/>
<line x1="264.2" y1="65.5" x2="264.2" y2="71.1" stroke="#2030c8" stroke-width="1.6"/><line x1="261.6" y1="65.5" x2="266.8" y2="65.5" stroke="#2030c8" stroke-width="1.8"/><line x1="261.6" y1="71.1" x2="266.8" y2="71.1" stroke="#2030c8" stroke-width="1.8"/>
<circle cx="264.2" cy="71.1" r="2.8" fill="#1f2fdc"/>
<line x1="264.2" y1="185" x2="264.2" y2="193" stroke="#c8203c" stroke-width="1.8"/>
<rect x="261.8" y="185.1" width="4.8" height="4.8" fill="#ee1c24"/>
<path d="M330.0,182.1 L333.2,187.7 L326.8,187.7Z" fill="#ab3cf0"/>
<rect x="360.8" y="40.9" width="5.2" height="5.2" fill="#ee1c24"/>
<path d="M363.4,60.0 L366.4,65.2 L360.4,65.2Z" fill="#ab3cf0"/>
<path d="M363.4,86.0 L366.4,80.7 L360.4,80.7Z" fill="#000000"/>
<circle cx="363.4" cy="102.5" r="2.6" fill="#1fe01f"/>
<circle cx="363.4" cy="122.1" r="2.6" fill="#1f2fdc"/>
<circle cx="363.4" cy="141.8" r="2.6" fill="#2fe49a"/>
<text x="-3" y="291.1" class="pl">B</text>
<g stroke="#000" fill="none">
<rect x="40" y="274" width="478.8" height="200.8" stroke-width="1.7"/>
<line x1="91.2" y1="274" x2="91.2" y2="474.8" stroke-width="1.6"/>
<line x1="451.4" y1="274" x2="451.4" y2="474.8" stroke-width="1.6"/>
<line x1="40" y1="314.2" x2="518.8" y2="314.2" stroke-width="1.6"/>
<line x1="92" y1="331.2" x2="451" y2="331.2" stroke-width="1.6" stroke-dasharray="3.6,1.4"/>
</g>
<text x="-1.2" y="522.8" class="pl">C</text>
<path d="M217.7,531.6 L301.0,518.3 L301.0,531.6 Z" fill="#b2f2e0" stroke="#000" stroke-width="1.1" stroke-linejoin="miter"/>
<line x1="217.7" y1="531.6" x2="301.0" y2="531.6" stroke="#000" stroke-width="1.6"/>
<rect x="190.5" y="583.3" width="117.3" height="35.4" fill="#fff" stroke="#000" stroke-width="1.5"/>
<rect x="190.5" y="632" width="117.3" height="36" fill="#fff" stroke="#000" stroke-width="1.5"/>
<g filter="url(#bl)">
<rect x="198.5" y="607.0" width="16.3" height="9.0" fill="url(#sm2)" fill-opacity="0.35"/>
<rect x="219.5" y="607.0" width="17.0" height="9.0" fill="url(#sm2)" fill-opacity="0.3"/>
<rect x="198.5" y="586.0" width="16.3" height="13.0" fill="url(#sm)" fill-opacity="0.35"/>
<rect x="219.5" y="588.0" width="17.0" height="14.0" fill="url(#sm)" fill-opacity="0.2"/>
<rect x="243.5" y="592.0" width="13.5" height="10.0" fill="url(#sm)" fill-opacity="0.1"/>
<rect x="198.2" y="586.0" width="2.0" height="27.0" fill="url(#sm)" fill-opacity="0.5"/>
<rect x="219.4" y="590.0" width="1.6" height="22.0" fill="url(#sm)" fill-opacity="0.4"/>
<path d="M199.7,596.5 Q206.5,598.2 213.3,597.0 C215.0,597.0 215.0,608.0 213.3,608.0 Q206.5,604.5 199.7,609.0 C198.0,609.0 198.0,596.5 199.7,596.5Z" fill="#000" fill-opacity="1"/>
<path d="M220.9,596.0 Q228.2,602.5 235.4,601.0 C237.1,601.0 237.1,607.8 235.4,607.8 Q228.2,606.7 220.9,610.0 C219.2,610.0 219.2,596.0 220.9,596.0Z" fill="#000" fill-opacity="1"/>
<path d="M244.5,600.5 Q250.3,601.5 256.2,600.5 C257.9,600.5 257.9,607.8 256.2,607.8 Q250.3,606.8 244.5,607.8 C242.8,607.8 242.8,600.5 244.5,600.5Z" fill="#000" fill-opacity="0.85"/>
</g><g filter="url(#bl2)">
<path d="M203.7,642.5 Q210.2,641.6 216.7,642.3 C219.2,642.3 219.2,651.0 216.7,651.0 Q210.2,651.0 203.7,651.0 C201.2,651.0 201.2,642.5 203.7,642.5Z" fill="#000" fill-opacity="1.0"/>
<path d="M222.9,642.0 Q229.6,641.4 236.3,642.0 C238.8,642.0 238.8,651.0 236.3,651.0 Q229.6,651.4 222.9,651.0 C220.4,651.0 220.4,642.0 222.9,642.0Z" fill="#000" fill-opacity="1.0"/>
<path d="M244.2,643.5 Q250.7,644.2 257.1,646.0 C259.6,646.0 259.6,653.0 257.1,653.0 Q250.7,652.5 244.2,652.0 C241.7,652.0 241.7,643.5 244.2,643.5Z" fill="#000" fill-opacity="1.0"/>
<path d="M263.8,648.3 Q270.2,648.2 276.7,648.5 C279.2,648.5 279.2,657.3 276.7,657.3 Q270.2,657.8 263.8,657.5 C261.3,657.5 261.3,648.3 263.8,648.3Z" fill="#000" fill-opacity="1.0"/>
<path d="M285.0,648.3 Q291.2,648.4 297.5,648.0 C300.0,648.0 300.0,656.5 297.5,656.5 Q291.2,657.3 285.0,656.9 C282.5,656.9 282.5,648.3 285.0,648.3Z" fill="#000" fill-opacity="1.0"/>
</g>
<line x1="185.9" y1="690.2" x2="307.9" y2="690.2" stroke="#000" stroke-width="1.3"/>
<path d="M347.2,531.6 L430.5,518.3 L430.5,531.6 Z" fill="#b2f2e0" stroke="#000" stroke-width="1.1" stroke-linejoin="miter"/>
<line x1="347.2" y1="531.6" x2="430.5" y2="531.6" stroke="#000" stroke-width="1.6"/>
<rect x="320.0" y="583.3" width="116.2" height="35.4" fill="#fff" stroke="#000" stroke-width="1.5"/>
<rect x="320.0" y="632" width="116.2" height="36" fill="#fff" stroke="#000" stroke-width="1.5"/>
<g filter="url(#bl)">
<rect x="324.6" y="606.0" width="20.4" height="11.0" fill="url(#sm2)" fill-opacity="0.45"/>
<rect x="349.7" y="606.0" width="17.6" height="10.0" fill="url(#sm2)" fill-opacity="0.4"/>
<rect x="369.6" y="605.0" width="18.8" height="11.0" fill="url(#sm2)" fill-opacity="0.4"/>
<rect x="324.6" y="584.0" width="20.4" height="14.0" fill="url(#sm)" fill-opacity="0.6"/>
<rect x="349.7" y="584.0" width="17.6" height="14.0" fill="url(#sm)" fill-opacity="0.5"/>
<rect x="369.6" y="584.0" width="18.8" height="12.0" fill="url(#sm)" fill-opacity="0.55"/>
<path d="M326.8,595.5 Q334.8,596.8 342.8,595.0 C345.3,595.0 345.3,606.0 342.8,606.0 Q334.8,607.0 326.8,612.0 C324.3,612.0 324.3,595.5 326.8,595.5Z" fill="#000" fill-opacity="1.0"/>
<path d="M351.9,596.0 Q358.5,598.2 365.1,595.5 C367.6,595.5 367.6,606.5 365.1,606.5 Q358.5,608.0 351.9,609.5 C349.4,609.5 349.4,596.0 351.9,596.0Z" fill="#000" fill-opacity="1.0"/>
<path d="M371.8,594.0 Q379.0,596.2 386.2,593.5 C388.7,593.5 388.7,605.5 386.2,605.5 Q379.0,607.2 371.8,608.0 C369.3,608.0 369.3,594.0 371.8,594.0Z" fill="#000" fill-opacity="1.0"/>
<path d="M395.3,598.0 Q400.8,598.0 406.2,598.0 C408.7,598.0 408.7,603.5 406.2,603.5 Q400.8,603.5 395.3,603.5 C392.8,603.5 392.8,598.0 395.3,598.0Z" fill="#000" fill-opacity="0.6"/>
</g><g filter="url(#bl2)">
<path d="M332.4,644.4 Q338.4,644.4 344.4,644.4 C346.9,644.4 346.9,655.0 344.4,655.0 Q338.4,655.0 332.4,655.0 C329.9,655.0 329.9,644.4 332.4,644.4Z" fill="#000" fill-opacity="1.0"/>
<path d="M351.4,644.4 Q357.6,644.4 363.9,644.4 C366.4,644.4 366.4,655.0 363.9,655.0 Q357.6,655.0 351.4,655.0 C348.9,655.0 348.9,644.4 351.4,644.4Z" fill="#000" fill-opacity="1.0"/>
<path d="M371.4,645.6 Q377.6,645.6 383.9,645.6 C386.4,645.6 386.4,655.0 383.9,655.0 Q377.6,655.0 371.4,655.0 C368.9,655.0 368.9,645.6 371.4,645.6Z" fill="#000" fill-opacity="1.0"/>
<path d="M390.2,647.0 Q396.4,644.5 402.7,642.0 C405.2,642.0 405.2,651.0 402.7,651.0 Q396.4,653.5 390.2,656.0 C387.7,656.0 387.7,647.0 390.2,647.0Z" fill="#000" fill-opacity="1.0"/>
<path d="M409.9,643.0 Q415.6,642.0 421.4,640.9 C423.9,640.9 423.9,651.5 421.4,651.5 Q415.6,653.0 409.9,653.0 C407.4,653.0 407.4,643.0 409.9,643.0Z" fill="#000" fill-opacity="1.0"/>
</g>
<line x1="320.8" y1="690.2" x2="443.3" y2="690.2" stroke="#000" stroke-width="1.3"/>
<text transform="translate(53.60,168.40) rotate(-90)" x="-1.02" y="0" class="ax" textLength="149.57" lengthAdjust="spacingAndGlyphs">Relative no of cells</text>
<text x="174.47" y="240.10" class="ax" textLength="111.86" lengthAdjust="spacingAndGlyphs">Drug conc [M]</text>
<text x="379.58" y="51.00" class="lg" textLength="97.48" lengthAdjust="spacingAndGlyphs">PC9 HKI-272</text>
<text x="379.57" y="70.66" class="lg" textLength="100.50" lengthAdjust="spacingAndGlyphs">PC9 gefitinib</text>
<text x="379.58" y="90.32" class="lg" textLength="100.90" lengthAdjust="spacingAndGlyphs">PC9 erlotinib</text>
<text x="380.60" y="109.98" class="lg" textLength="133.94" lengthAdjust="spacingAndGlyphs">Clone 47 HKI-272</text>
<text x="380.60" y="129.64" class="lg" textLength="136.85" lengthAdjust="spacingAndGlyphs">Clone 47 gefitinib</text>
<text x="380.60" y="149.30" class="lg" textLength="137.26" lengthAdjust="spacingAndGlyphs">Clone 47 erlotinib</text>
<text x="48.20" y="297.30" class="tb" textLength="35.74" lengthAdjust="spacingAndGlyphs">class</text>
<text x="118.40" y="297.20" class="tb" textLength="53.86" lengthAdjust="spacingAndGlyphs">Cell line</text>
<text x="213.10" y="297.20" class="tb" textLength="68.56" lengthAdjust="spacingAndGlyphs">ΔCt Del15</text>
<text x="350.10" y="297.20" class="tb" textLength="66.88" lengthAdjust="spacingAndGlyphs">ΔCt T790M</text>
<text x="460.40" y="290.90" class="tb" textLength="49.27" lengthAdjust="spacingAndGlyphs">T790M/</text>
<text x="468.10" y="306.40" class="tb" textLength="35.94" lengthAdjust="spacingAndGlyphs">clone</text>
<text x="106.60" y="327.10" class="tb" textLength="86.49" lengthAdjust="spacingAndGlyphs">Cut-off point</text>
<text x="253.73" y="327.10" class="tb" textLength="16.74" lengthAdjust="spacingAndGlyphs">12</text>
<text x="385.75" y="327.10" class="tb" textLength="14.72" lengthAdjust="spacingAndGlyphs">11</text>
<text x="125.59" y="349.50" class="tb" textLength="29.19" lengthAdjust="spacingAndGlyphs">PC9</text>
<text x="256.70" y="349.50" class="tb" textLength="8.66" lengthAdjust="spacingAndGlyphs">2</text>
<text x="348.52" y="349.50" class="tb" textLength="88.31" lengthAdjust="spacingAndGlyphs">undetectable</text>
<text x="472.67" y="349.50" class="tb" textLength="32.90" lengthAdjust="spacingAndGlyphs">0/86</text>
<text x="66.20" y="369.18" class="tb" textLength="9.31" lengthAdjust="spacingAndGlyphs">A</text>
<text x="117.00" y="369.18" class="tb" textLength="51.04" lengthAdjust="spacingAndGlyphs">Clone 8</text>
<text x="256.70" y="369.18" class="tb" textLength="8.66" lengthAdjust="spacingAndGlyphs">1</text>
<text x="384.60" y="369.18" class="tb" textLength="17.31" lengthAdjust="spacingAndGlyphs">10</text>
<text x="472.72" y="369.18" class="tb" textLength="31.58" lengthAdjust="spacingAndGlyphs">0/51</text>
<text x="66.20" y="388.86" class="tb" textLength="9.31" lengthAdjust="spacingAndGlyphs">A</text>
<text x="112.90" y="388.86" class="tb" textLength="58.98" lengthAdjust="spacingAndGlyphs">Clone 19</text>
<text x="256.70" y="388.86" class="tb" textLength="8.66" lengthAdjust="spacingAndGlyphs">2</text>
<text x="384.60" y="388.86" class="tb" textLength="17.31" lengthAdjust="spacingAndGlyphs">10</text>
<text x="472.72" y="388.86" class="tb" textLength="31.58" lengthAdjust="spacingAndGlyphs">0/57</text>
<text x="66.20" y="408.54" class="tb" textLength="9.31" lengthAdjust="spacingAndGlyphs">A</text>
<text x="112.80" y="408.54" class="tb" textLength="60.19" lengthAdjust="spacingAndGlyphs">Clone 23</text>
<text x="256.70" y="408.54" class="tb" textLength="8.66" lengthAdjust="spacingAndGlyphs">2</text>
<text x="385.10" y="408.54" class="tb" textLength="17.31" lengthAdjust="spacingAndGlyphs">12</text>
<text x="472.67" y="408.54" class="tb" textLength="32.90" lengthAdjust="spacingAndGlyphs">0/52</text>
<text x="65.70" y="428.22" class="tb" textLength="9.33" lengthAdjust="spacingAndGlyphs">B</text>
<text x="112.80" y="428.22" class="tb" textLength="60.19" lengthAdjust="spacingAndGlyphs">Clone 37</text>
<text x="256.70" y="428.22" class="tb" textLength="8.66" lengthAdjust="spacingAndGlyphs">2</text>
<text x="389.60" y="428.22" class="tb" textLength="8.66" lengthAdjust="spacingAndGlyphs">4</text>
<text x="469.35" y="428.22" class="tb" textLength="41.31" lengthAdjust="spacingAndGlyphs">11/83</text>
<text x="65.70" y="447.90" class="tb" textLength="9.33" lengthAdjust="spacingAndGlyphs">B</text>
<text x="112.80" y="447.90" class="tb" textLength="60.19" lengthAdjust="spacingAndGlyphs">Clone 47</text>
<text x="256.70" y="447.90" class="tb" textLength="8.66" lengthAdjust="spacingAndGlyphs">2</text>
<text x="389.60" y="447.90" class="tb" textLength="8.66" lengthAdjust="spacingAndGlyphs">4</text>
<text x="480.41" y="447.90" class="tb" textLength="18.86" lengthAdjust="spacingAndGlyphs">nd</text>
<text x="65.70" y="467.58" class="tb" textLength="9.33" lengthAdjust="spacingAndGlyphs">B</text>
<text x="112.30" y="467.58" class="tb" textLength="60.19" lengthAdjust="spacingAndGlyphs">Clone 49</text>
<text x="256.70" y="467.58" class="tb" textLength="8.66" lengthAdjust="spacingAndGlyphs">2</text>
<text x="389.60" y="467.58" class="tb" textLength="8.66" lengthAdjust="spacingAndGlyphs">4</text>
<text x="480.41" y="467.58" class="tb" textLength="18.86" lengthAdjust="spacingAndGlyphs">nd</text>
<text x="104.20" y="608.50" class="sr" textLength="84.57" lengthAdjust="spacingAndGlyphs">Phospho EGFR</text>
<text x="122.90" y="657.10" class="sr" textLength="65.76" lengthAdjust="spacingAndGlyphs">Total EGFR</text>
<text x="222.50" y="516.50" class="sr3" textLength="79.89" lengthAdjust="spacingAndGlyphs">HKI 272 (μM)</text>
<text transform="translate(214.60,572.70) rotate(-90)" x="-0.00" y="0" class="ln" textLength="7.10" lengthAdjust="spacingAndGlyphs">0</text>
<text transform="translate(236.50,573.10) rotate(-90)" x="-0.00" y="0" class="ln" textLength="30.37" lengthAdjust="spacingAndGlyphs">0.002</text>
<text transform="translate(259.70,571.50) rotate(-90)" x="-0.00" y="0" class="ln" textLength="22.47" lengthAdjust="spacingAndGlyphs">0.02</text>
<text transform="translate(281.90,571.90) rotate(-90)" x="-0.00" y="0" class="ln" textLength="17.47" lengthAdjust="spacingAndGlyphs">0.2</text>
<text transform="translate(304.80,572.30) rotate(-90)" x="-0.00" y="0" class="ln" textLength="6.69" lengthAdjust="spacingAndGlyphs">2</text>
<text x="234.10" y="713.80" class="sr2" textLength="45.48" lengthAdjust="spacingAndGlyphs">NIH3T3</text>
<text x="234.10" y="729.30" class="sr2" textLength="50.04" lengthAdjust="spacingAndGlyphs">EGFR wt</text>
<text x="343.70" y="516.50" class="sr3" textLength="79.49" lengthAdjust="spacingAndGlyphs">HKI 272 (μM)</text>
<text transform="translate(342.70,570.20) rotate(-90)" x="-0.00" y="0" class="ln" textLength="6.59" lengthAdjust="spacingAndGlyphs">0</text>
<text transform="translate(365.20,569.60) rotate(-90)" x="-0.00" y="0" class="ln" textLength="30.97" lengthAdjust="spacingAndGlyphs">0.002</text>
<text transform="translate(388.80,570.80) rotate(-90)" x="-0.00" y="0" class="ln" textLength="23.27" lengthAdjust="spacingAndGlyphs">0.02</text>
<text transform="translate(410.70,570.60) rotate(-90)" x="-0.00" y="0" class="ln" textLength="17.84" lengthAdjust="spacingAndGlyphs">0.2</text>
<text transform="translate(432.80,571.00) rotate(-90)" x="-0.00" y="0" class="ln" textLength="6.38" lengthAdjust="spacingAndGlyphs">2</text>
<text x="360.80" y="713.80" class="sr2" textLength="44.98" lengthAdjust="spacingAndGlyphs">NIH3T3</text>
<text x="345.40" y="729.30" class="sr2" textLength="78.99" lengthAdjust="spacingAndGlyphs">EGFR T790M</text>
</svg>
</body></html>
